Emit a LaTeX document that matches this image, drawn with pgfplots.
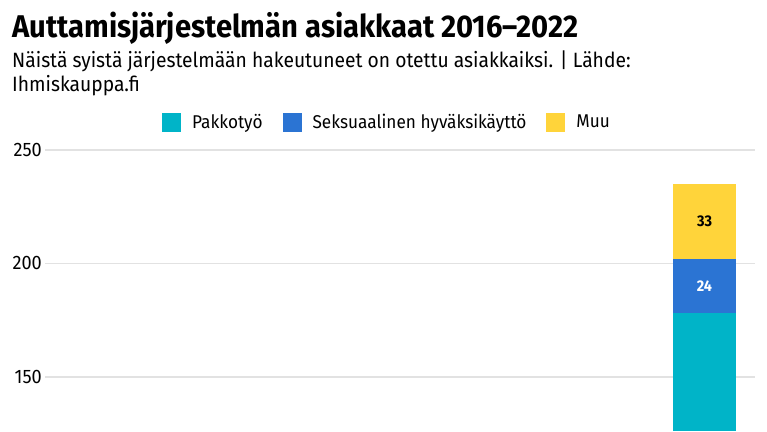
\documentclass[border=0pt]{standalone}
\usepackage{fontspec}
\setmainfont[FakeStretch=0.93]{Fira Sans}
\usepackage{pgfplots}
\pgfplotsset{compat=1.18}
\definecolor{teal1}{RGB}{0,180,200}
\definecolor{blue1}{RGB}{43,116,211}
\definecolor{yellow1}{RGB}{255,212,58}
\definecolor{gridgray}{RGB}{226,226,226}

\begin{document}
\begin{tikzpicture}[x=1pt,y=1pt]
\useasboundingbox (0,-431) rectangle (767,0);
\node[anchor=base west, inner sep=0pt, font=\bfseries\fontsize{31.4}{31.4}\selectfont] at (12,-37) {Auttamisjärjestelmän asiakkaat 2016–2022};
\node[anchor=base west, inner sep=0pt, font=\fontsize{20.7}{20.7}\selectfont] at (12,-67) {Näistä syistä järjestelmään hakeutuneet on otettu asiakkaiksi. | Lähde:};
\node[anchor=base west, inner sep=0pt, font=\fontsize{20.7}{20.7}\selectfont] at (12,-91) {Ihmiskauppa.fi};

\begin{axis}[
    at={(45pt,-431pt)}, anchor=south west,
    scale only axis,
    width=710pt, height=281pt,
    xmin=2014.753, xmax=2022.555,
    ymin=126.2, ymax=250,
    ybar stacked,
    bar width=63pt,
    axis line style={draw=none},
    tick style={draw=none},
    xtick=\empty,
    ytick={150,200,250},
    ymajorgrids=true,
    grid style={gridgray, line width=1.6pt},
    yticklabel style={font=\fontsize{19.5}{19.5}\selectfont, inner sep=1pt, xshift=-2pt},
    /pgf/number format/assume math mode=true,
    legend style={
        at={(0.4817,1.0996)}, anchor=center,
        legend columns=-1, draw=none, fill=none,
        font=\fontsize{18.5}{18.5}\selectfont,
        /tikz/every odd column/.append style={column sep=9pt},
        /tikz/every even column/.append style={column sep=18pt},
        legend cell align=left,
    },
    legend image code/.code={\fill[#1] (0pt,-9.5pt) rectangle (19pt,9.5pt);},
    point meta=rawy,
]
\addplot+[fill=teal1, draw=none] coordinates {(2022,178)};
\addplot+[fill=blue1, draw=none,
    nodes near coords,
    every node near coord/.append style={anchor=center, text=white, font=\bfseries\fontsize{15.5}{15.5}\selectfont}
] coordinates {(2022,24)};
\addplot+[fill=yellow1, draw=none,
    nodes near coords,
    every node near coord/.append style={anchor=center, text=black, font=\bfseries\fontsize{15.5}{15.5}\selectfont}
] coordinates {(2022,33)};
\legend{Pakkotyö, Seksuaalinen hyväksikäyttö, Muu}
\end{axis}
\end{tikzpicture}
\end{document}
